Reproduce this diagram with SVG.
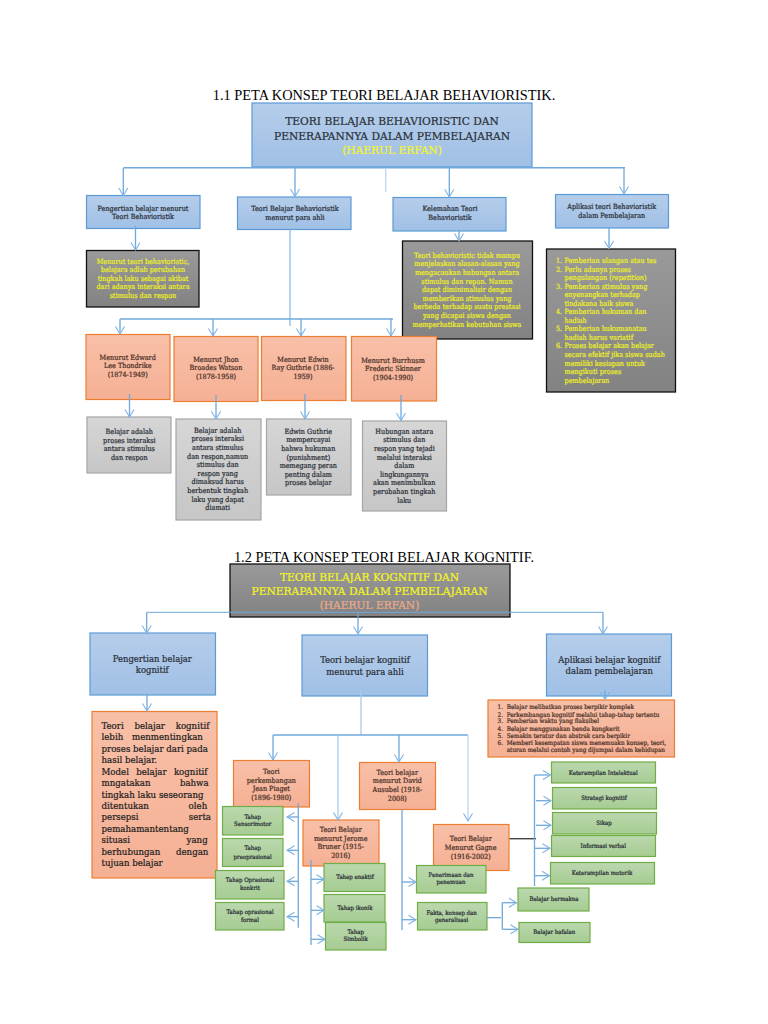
<svg xmlns="http://www.w3.org/2000/svg" width="768" height="1024" viewBox="0 0 768 1024">
<style>
text{font-family:"DejaVu Serif Condensed","DejaVu Serif","Liberation Serif",serif;text-anchor:middle;fill:#2b3038;stroke:#2b3038;stroke-width:.22}
.title{font-family:"Liberation Serif",serif;font-size:14.35px;fill:#000;stroke:none}
.h{font-size:11.85px}
.m{font-size:9.4px}
.ds{font-size:9.6px;text-anchor:start;fill:#222;stroke:#222}
.s{font-size:7.2px}
.x{font-size:6.05px}
.lx{font-size:6.35px}
.l{text-anchor:start}
.y{fill:#eeee22;stroke:#eeee22}
.hy{fill:#f5f51e;stroke:#f5f51e}
.ho{fill:#eda988;stroke:#eda988}
.b{fill:url(#gb);stroke:#5b9bd5;stroke-width:1.2}
.o{fill:url(#go);stroke:#ed7d31;stroke-width:1.2}
.g{fill:url(#gg);stroke:#70ad47;stroke-width:1.2}
.a{fill:url(#ga);stroke:#a5a5a5;stroke-width:1.2}
.d{fill:url(#gd);stroke:#111;stroke-width:1.3}
.c{fill:none;stroke:#6fa8dc;stroke-width:1.3}
.ar{marker-end:url(#v)}
.tx{fill:#4a3028;stroke:#4a3028}
</style>
<defs>
<linearGradient id="gb" x1="0" y1="0" x2="0" y2="1"><stop offset="0" stop-color="#b5cdea"/><stop offset="1" stop-color="#a0c0e6"/></linearGradient>
<linearGradient id="go" x1="0" y1="0" x2="0" y2="1"><stop offset="0" stop-color="#f8c0a8"/><stop offset="1" stop-color="#f5b094"/></linearGradient>
<linearGradient id="gg" x1="0" y1="0" x2="0" y2="1"><stop offset="0" stop-color="#bbd8ae"/><stop offset="1" stop-color="#a6cc92"/></linearGradient>
<linearGradient id="ga" x1="0" y1="0" x2="0" y2="1"><stop offset="0" stop-color="#d6d6d6"/><stop offset="1" stop-color="#c6c6c6"/></linearGradient>
<linearGradient id="gd" x1="0" y1="0" x2="0" y2="1"><stop offset="0" stop-color="#9a9a9a"/><stop offset="1" stop-color="#828282"/></linearGradient>
<marker id="v" markerUnits="userSpaceOnUse" markerWidth="12" markerHeight="12" viewBox="-10 -6 12 12" refX="0" refY="0" orient="auto"><path d="M-7.5,-4.5L0,0L-7.5,4.5" fill="none" stroke="#7fb3e3" stroke-width="1.1"/></marker>
</defs>

<text class="title" x="384" y="100">1.1 PETA KONSEP TEORI BELAJAR BEHAVIORISTIK.</text>
<text class="title" x="384" y="562">1.2 PETA KONSEP TEORI BELAJAR KOGNITIF.</text>

<g id="n-main1"><rect class="b" x="252" y="103" width="280" height="64"/><text class="h" x="392" y="124.5">TEORI BELAJAR BEHAVIORISTIC DAN</text><text class="h" x="392" y="139.5">PENERAPANNYA DALAM PEMBELAJARAN</text><text class="h hy" x="392" y="154">(HAERUL ERFAN)</text></g>
<g id="n-pengertian1"><rect class="b" x="86.5" y="195.5" width="113.5" height="33"/><text class="s" x="143" y="210.5">Pengertian belajar menurut</text><text class="s" x="143" y="219">Teori Behavioristik</text></g>
<g id="n-para1"><rect class="b" x="237.5" y="197" width="113.5" height="32.5"/><text class="s" x="295" y="211">Teori Belajar Behavioristik</text><text class="s" x="295" y="219.7">menurut para ahli</text></g>
<g id="n-kelemahan"><rect class="b" x="393" y="197.5" width="113" height="33.5"/><text class="s" x="450" y="211">Kelemahan Teori</text><text class="s" x="450" y="219.7">Behavioristik</text></g>
<g id="n-aplikasi1"><rect class="b" x="555.5" y="194.5" width="113" height="33.5"/><text class="s" x="611.7" y="209">Aplikasi teori Behavioristik</text><text class="s" x="611.7" y="217.7">dalam Pembelajaran</text></g>

<g id="n-dark1"><rect class="d" x="86.5" y="250.5" width="112.5" height="56.5"/>
<text class="s y" x="143" y="263.7">Menurut teori behavioristic,</text><text class="s y" x="143" y="272.2">belajara adlah perubahan</text><text class="s y" x="143" y="280.8">tingkah laku sebagai akibat</text><text class="s y" x="143" y="289.4">dari adanya interaksi antara</text><text class="s y" x="143" y="297.8">stimulus dan respon</text></g>
<g id="n-dark2"><rect class="d" x="402.5" y="241" width="130" height="98"/>
<text class="s y" x="467" y="257.8">Teori behavioristic tidak mampu</text><text class="s y" x="467" y="266.4">menjelaskan alasan-alasan yang</text><text class="s y" x="467" y="275">mengacaukan hubungan antara</text><text class="s y" x="467" y="283.6">stimulus dan repon. Namun</text><text class="s y" x="467" y="292.2">dapat diminimalisir dengan</text><text class="s y" x="467" y="300.8">memberikan stimulus yang</text><text class="s y" x="467" y="309.4">berbeda terhadap suatu prestasi</text><text class="s y" x="467" y="318">yang dicapai siswa dengan</text><text class="s y" x="467" y="326.6">memperhatikan kebutuhan siswa</text></g>
<g id="n-dark3"><rect class="d" x="546.5" y="249" width="129" height="143"/>
<text class="s y l" x="556" y="262.8">1.</text><text class="s y l" x="564.5" y="262.8">Pemberian ulangan atau tes</text>
<text class="s y l" x="556" y="271.5">2.</text><text class="s y l" x="564.5" y="271.5">Perlu adanya proses</text>
<text class="s y l" x="564.5" y="280">pengulangan (<tspan font-style="italic">repetition</tspan>)</text>
<text class="s y l" x="556" y="288.5">3.</text><text class="s y l" x="564.5" y="288.5">Pemberian stimulus yang</text>
<text class="s y l" x="564.5" y="297.2">enyenangkan terhadap</text>
<text class="s y l" x="564.5" y="305.6">tindakana baik siswa</text>
<text class="s y l" x="556" y="314.2">4.</text><text class="s y l" x="564.5" y="314.2">Pemberian hukuman dan</text>
<text class="s y l" x="564.5" y="322.8">hadiah</text>
<text class="s y l" x="556" y="331.2">5.</text><text class="s y l" x="564.5" y="331.2">Pemberian hukumanatau</text>
<text class="s y l" x="564.5" y="339.8">hadiah harus variatif</text>
<text class="s y l" x="556" y="348.2">6.</text><text class="s y l" x="564.5" y="348.2">Proses belajar akan belajar</text>
<text class="s y l" x="564.5" y="356.8">secara efektif jika siswa sudah</text>
<text class="s y l" x="564.5" y="365.5">memiliki kesiapan  untuk</text>
<text class="s y l" x="564.5" y="374.2">mengikuti proses</text>
<text class="s y l" x="564.5" y="382.6">pembelajaran</text></g>

<g id="n-o1"><rect class="o" x="86" y="334.5" width="84" height="65"/><text class="s tx" x="127.7" y="359.8">Menurut Edward</text><text class="s tx" x="127.7" y="368.2">Lee Thondrike</text><text class="s tx" x="127.7" y="377.2">(1874-1949)</text></g>
<g id="n-o2"><rect class="o" x="174" y="336.5" width="84" height="65"/><text class="s tx" x="216" y="361.8">Menurut Jhon</text><text class="s tx" x="216" y="370.2">Broades Watson</text><text class="s tx" x="216" y="379.2">(1878-1958)</text></g>
<g id="n-o3"><rect class="o" x="261.5" y="336.5" width="84.5" height="64"/><text class="s tx" x="303" y="361.8">Menurut Edwin</text><text class="s tx" x="303" y="370.2">Ray Guthrie (1886-</text><text class="s tx" x="303" y="379.2">1959)</text></g>
<g id="n-o4"><rect class="o" x="351.5" y="336.5" width="85" height="64.5"/><text class="s tx" x="393" y="362.5">Menurut Burrhusm</text><text class="s tx" x="393" y="371.2">Frederic Skinner</text><text class="s tx" x="393" y="379.8">(1904-1990)</text></g>

<g id="n-g1"><rect class="a" x="87" y="417" width="84" height="56"/><text class="s" x="129.3" y="433.8">Belajar adalah</text><text class="s" x="129.3" y="442.5">proses interaksi</text><text class="s" x="129.3" y="451.2">antara stimulus</text><text class="s" x="129.3" y="459.8">dan respon</text></g>
<g id="n-g2"><rect class="a" x="176" y="419" width="85" height="101"/><text class="s" x="217.7" y="432.8">Belajar adalah</text><text class="s" x="217.7" y="441.4">proses interaksi</text><text class="s" x="217.7" y="450">antara stimulus</text><text class="s" x="217.7" y="458.6">dan respon,namun</text><text class="s" x="217.7" y="467.2">stimulus dan</text><text class="s" x="217.7" y="475.8">respon yang</text><text class="s" x="217.7" y="484.4">dimaksud harus</text><text class="s" x="217.7" y="493">berbentuk tingkah</text><text class="s" x="217.7" y="501.6">laku yang dapat</text><text class="s" x="217.7" y="510.2">diamati</text></g>
<g id="n-g3"><rect class="a" x="266.5" y="419" width="84.5" height="76"/><text class="s" x="308.3" y="433.8">Edwin Guthrie</text><text class="s" x="308.3" y="442.4">mempercayai</text><text class="s" x="308.3" y="451">bahwa hukuman</text><text class="s" x="308.3" y="459.6">(punishment)</text><text class="s" x="308.3" y="468.2">memegang peran</text><text class="s" x="308.3" y="476.8">penting dalam</text><text class="s" x="308.3" y="485.4">proses belajar</text></g>
<g id="n-g4"><rect class="a" x="362.5" y="421" width="84" height="90"/><text class="s" x="404.3" y="433.8">Hubungan antara</text><text class="s" x="404.3" y="442.4">stimulus dan</text><text class="s" x="404.3" y="451">respon yang tejadi</text><text class="s" x="404.3" y="459.6">melalui interaksi</text><text class="s" x="404.3" y="468.2">dalam</text><text class="s" x="404.3" y="476.8">lingkungannya</text><text class="s" x="404.3" y="485.4">akan menimbulkan</text><text class="s" x="404.3" y="494">perubahan tingkah</text><text class="s" x="404.3" y="502.6">laku</text></g>

<g id="n-main2"><rect class="d" x="230" y="564" width="280" height="53"/><text class="h hy" x="369.5" y="580.5">TEORI BELAJAR KOGNITIF DAN</text><text class="h hy" x="369.5" y="594.5">PENERAPANNYA DALAM PEMBELAJARAN</text><text class="h ho" x="369.5" y="609">(HAERUL ERFAN)</text></g>
<g id="n-k-pengertian"><rect class="b" x="90" y="633" width="125.5" height="62"/><text class="m" x="152.3" y="661.5">Pengertian belajar</text><text class="m" x="152.3" y="673">kognitif</text></g>
<g id="n-k-para"><rect class="b" x="302" y="635" width="125.5" height="61"/><text class="m" x="365" y="663">Teori belajar kognitif</text><text class="m" x="365" y="675">menurut para ahli</text></g>
<g id="n-k-aplikasi"><rect class="b" x="546.5" y="634" width="125" height="62"/><text class="m" x="609.3" y="662.5">Aplikasi belajar kognitif</text><text class="m" x="609.3" y="674">dalam pembelajaran</text></g>

<g id="n-k-list"><rect class="o" x="488" y="700" width="186.5" height="57"/>
<text class="lx tx l" x="497.5" y="709">1.</text><text class="lx tx l" x="506.7" y="709">Belajar melibatkan proses berpikir komplek</text>
<text class="lx tx l" x="497.5" y="716.7">2.</text><text class="lx tx l" x="506.7" y="716.7">Perkembangan kognitif melalui tahap-tahap tertentu</text>
<text class="lx tx l" x="497.5" y="723">3.</text><text class="lx tx l" x="506.7" y="723">Pemberian waktu yang flaksibel</text>
<text class="lx tx l" x="497.5" y="730.7">4.</text><text class="lx tx l" x="506.7" y="730.7">Belajar menggunakan benda kongkerit</text>
<text class="lx tx l" x="497.5" y="737.7">5.</text><text class="lx tx l" x="506.7" y="737.7">Semakin teratur dan abstrak cara berpikir</text>
<text class="lx tx l" x="497.5" y="745.3">6.</text><text class="lx tx l" x="506.7" y="745.3">Memberi kesempatan siswa menemuakn konsep, teori,</text>
<text class="lx tx l" x="506.7" y="752.3">aturan melalui contoh yang dijumpai dalam kehidupan</text></g>

<g id="n-k-desc"><rect class="o" x="92" y="711.5" width="125" height="166.5"/>
<text class="ds" x="101.5" y="729" word-spacing="8">Teori belajar kognitif</text>
<text class="ds" x="101.5" y="740.4" word-spacing="6">lebih menmentingkan</text>
<text class="ds" x="101.5" y="752">proses belajar dari pada</text>
<text class="ds" x="101.5" y="763.3">hasil belajar.</text>
<text class="ds" x="101.5" y="774.7" word-spacing="4.5">Model belajar kognitif</text>
<text class="ds" x="101.5" y="786" word-spacing="26.7">mngatakan bahwa</text>
<text class="ds" x="101.5" y="797.6">tingkah laku seseorang</text>
<text class="ds" x="101.5" y="809" word-spacing="37">ditentukan oleh</text>
<text class="ds" x="101.5" y="820.3" word-spacing="47.5">persepsi serta</text>
<text class="ds" x="101.5" y="831.7">pemahamantentang</text>
<text class="ds" x="101.5" y="843.3" word-spacing="53.8">situasi yang</text>
<text class="ds" x="101.5" y="854.7" word-spacing="13">berhubungan dengan</text>
<text class="ds" x="101.5" y="866">tujuan belajar</text></g>

<g id="n-piaget"><rect class="o" x="233.5" y="760.5" width="76" height="46.5"/><text class="s tx" x="271.3" y="773.8">Teori</text><text class="s tx" x="271.3" y="782.5">perkembangan</text><text class="s tx" x="271.3" y="791.2">Jean Piaget</text><text class="s tx" x="271.3" y="799.5">(1896-1980)</text></g>
<g id="n-bruner"><rect class="o" x="303" y="820" width="76" height="46"/><text class="s tx" x="340.7" y="831.8">Teori Belajar</text><text class="s tx" x="340.7" y="840.5">menurut Jerome</text><text class="s tx" x="340.7" y="849.2">Bruner (1915-</text><text class="s tx" x="340.7" y="857.8">2016)</text></g>
<g id="n-ausubel"><rect class="o" x="359.5" y="762.5" width="76" height="47"/><text class="s tx" x="397.3" y="774.8">Teori belajar</text><text class="s tx" x="397.3" y="783.2">menurut David</text><text class="s tx" x="397.3" y="791.8">Ausubel (1918-</text><text class="s tx" x="397.3" y="800.5">2008)</text></g>
<g id="n-gagne"><rect class="o" x="433.5" y="824.5" width="75.5" height="46"/><text class="s tx" x="470.7" y="841.2">Teori Belajar</text><text class="s tx" x="470.7" y="849.8">Menurut Gagne</text><text class="s tx" x="470.7" y="858.5">(1916-2002)</text></g>

<g id="n-sensori"><rect class="g" x="222.5" y="806.5" width="60.5" height="28.5"/><text class="x" x="252.7" y="819.3">Tahap</text><text class="x" x="252.7" y="826">Sensorimotor</text></g>
<g id="n-preop"><rect class="g" x="222.5" y="838.5" width="60.5" height="28"/><text class="x" x="252.7" y="850.3">Tahap</text><text class="x" x="252.7" y="858.7">preoprasional</text></g>
<g id="n-konkrit"><rect class="g" x="215.5" y="870.5" width="68.5" height="28.5"/><text class="x" x="250" y="882">Tahap Oprasional</text><text class="x" x="250" y="889.7">konkrit</text></g>
<g id="n-formal"><rect class="g" x="215.5" y="902.5" width="68.5" height="27.5"/><text class="x" x="250" y="914.3">Tahap oprasional</text><text class="x" x="250" y="922">formal</text></g>
<g id="n-enaktif"><rect class="g" x="324" y="863.5" width="61" height="28"/><text class="x" x="355" y="879.3">Tahap enaktif</text></g>
<g id="n-ikonik"><rect class="g" x="324" y="894.5" width="61" height="27.5"/><text class="x" x="355" y="909.7">Tahap ikonik</text></g>
<g id="n-simbolik"><rect class="g" x="325.5" y="922.5" width="60.5" height="27.5"/><text class="x" x="355.7" y="934.3">Tahap</text><text class="x" x="355.7" y="941">Simbolik</text></g>
<g id="n-penerimaan"><rect class="g" x="416.5" y="865.5" width="69.5" height="27.5"/><text class="x" x="451" y="877.3">Penerimaan dan</text><text class="x" x="451" y="884.3">penemuan</text></g>
<g id="n-fakta"><rect class="g" x="417.5" y="902.5" width="69.5" height="27.5"/><text class="x" x="451.7" y="914.7">Fakta, konsep dan</text><text class="x" x="451.7" y="922">generalisasi</text></g>
<g id="n-bermakna"><rect class="g" x="518" y="888" width="71" height="23"/><text class="x" x="554" y="901">Belajar bermakna</text></g>
<g id="n-hafalan"><rect class="g" x="519" y="922.5" width="71" height="20"/><text class="x" x="554.3" y="934.3">Belajar hafalan</text></g>
<g id="n-intelektual"><rect class="g" x="551.5" y="762" width="104" height="21"/><text class="x" x="603.3" y="774.7">Keterampilan Intelektual</text></g>
<g id="n-strategi"><rect class="g" x="552.5" y="787.5" width="104" height="21.5"/><text class="x" x="604" y="800">Strategi kognitif</text></g>
<g id="n-sikap"><rect class="g" x="552.5" y="812.5" width="104" height="21.5"/><text class="x" x="604" y="825">Sikap</text></g>
<g id="n-informasi"><rect class="g" x="551.5" y="835.5" width="104" height="21"/><text class="x" x="603.3" y="848">Informasi verbal</text></g>
<g id="n-motorik"><rect class="g" x="550.5" y="862.5" width="104" height="21.5"/><text class="x" x="602" y="875.3">Keterampilan motorik</text></g>

<g id="connectors">
<path class="c" d="M123.5,167.7H625" style="stroke-width:1.6"/>
<path class="c ar" d="M123.3,167.7V195.5"/>
<path class="c ar" d="M295,167.7V196.5"/>
<path class="c" d="M385.7,167.7V192" style="stroke:#bcd6ee"/>
<path class="c ar" d="M449.3,167.7V197"/>
<path class="c ar" d="M624,167.7V194"/>
<path class="c ar" d="M135.5,226V250"/>
<path class="c" d="M290,229.5V326" style="stroke:#8dbbe8"/>
<path class="c ar" d="M459,231V241"/>
<path class="c ar" d="M609,228V248.5"/>
<path class="c" d="M120,319H393"/>
<path class="c ar" d="M120,319V334"/>
<path class="c ar" d="M213,319V336"/>
<path class="c ar" d="M301,319V336"/>
<path class="c ar" d="M391,319V336"/>
<path class="c ar" d="M129.5,394V417"/>
<path class="c ar" d="M216,395V419"/>
<path class="c ar" d="M305,394V419"/>
<path class="c ar" d="M401,395V420.5"/>
<path class="c" d="M146.7,612.3H603" style="stroke-width:1"/>
<path class="c ar" d="M146.7,612.3V633"/>
<path class="c ar" d="M358,612.3V634"/>
<path class="c ar" d="M603,612.3V634"/>
<path class="c ar" d="M147,695V711"/>
<path class="c ar" d="M605,690V699.5"/>
<path class="c" d="M361,690V735" style="stroke:#a8cbee"/>
<path class="c" d="M273,735H468"/>
<path class="c ar" d="M273,735V760"/>
<path class="c ar" d="M338,735V820" style="stroke:#a8cbee"/>
<path class="c ar" d="M399,735V762"/>
<path class="c ar" d="M468,735V821" style="stroke:#bcd6ee"/>
<path class="c" d="M298.3,803.3V927.7"/>
<path class="c ar" d="M298.3,817H287"/>
<path class="c ar" d="M298.3,850.3H287"/>
<path class="c ar" d="M298.3,881.3H287"/>
<path class="c ar" d="M298.3,916.7H287"/>
<path class="c" d="M311,860V945"/>
<path class="c ar" d="M311,879.3H324"/>
<path class="c ar" d="M311,910.3H324"/>
<path class="c ar" d="M311,939.3H325"/>
<path class="c" d="M402,809.5V930"/>
<path class="c ar" d="M402,882H416"/>
<path class="c ar" d="M402,919.7H416"/>
<path class="c" d="M487,917.7H501"/>
<path class="c" d="M502.3,902.7V929.3"/>
<path class="c ar" d="M502.3,902.7H516.5"/>
<path class="c ar" d="M502.3,929.3H518"/>
<path d="M509.5,838.7H536" fill="none" stroke="#444" stroke-width="1.4"/>
<path class="c" d="M534.5,775V886"/>
<path class="c ar" d="M534.5,775H550.5"/>
<path class="c ar" d="M536,800.7H551"/>
<path class="c ar" d="M536,825.3H551"/>
<path class="c ar" d="M535,848.3H550"/>
<path class="c ar" d="M534.5,875.7H549.5"/>
</g>
</svg>
